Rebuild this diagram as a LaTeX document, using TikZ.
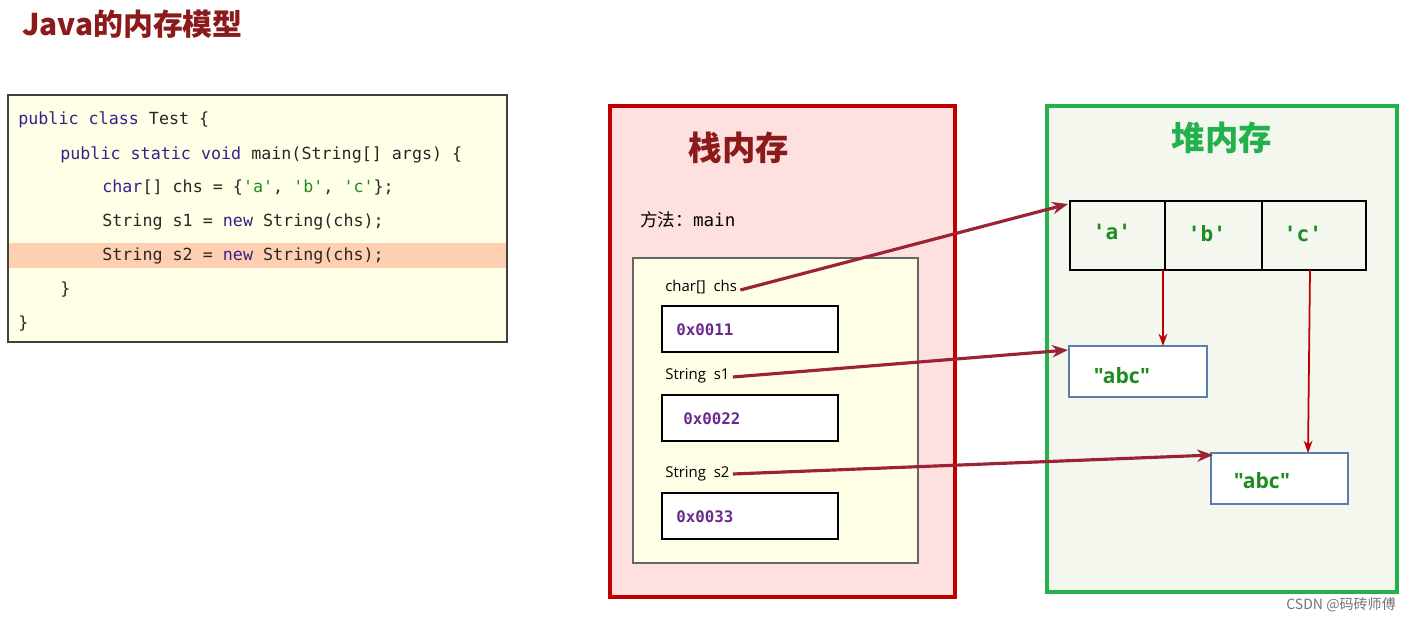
\documentclass[tikz,border=0pt]{standalone}
\usepackage{fontspec}
\setmainfont{Noto Sans CJK SC}
\setsansfont{Noto Sans CJK SC}
\setmonofont{DejaVu Sans Mono}
\newfontfamily\latinsf{Open Sans}
\usetikzlibrary{arrows.meta}
\definecolor{dred}{HTML}{8B1A1A}
\definecolor{arrred}{HTML}{9B2335}
\definecolor{kw}{HTML}{3A1F8A}
\definecolor{cg}{HTML}{1E8C1E}
\definecolor{purp}{HTML}{6A2A8C}
\definecolor{hgreen}{HTML}{22B14C}
\definecolor{hfill}{HTML}{F3F7EE}
\definecolor{sblue}{HTML}{5A7DB0}
\tikzset{
 code/.style={anchor=west,inner sep=0pt,font=\ttfamily\fontsize{9.5}{11}\selectfont,text=black!85},
 lbl/.style={anchor=west,inner sep=0pt,font=\latinsf\fontsize{8.5}{10}\selectfont},
 ref/.style={-{Stealth[length=9pt,width=7pt]},arrred,line width=1.8pt},
 thin/.style={-{Stealth[length=7pt,width=5pt]},red!75!black,line width=1pt},
 strbox/.style={draw=sblue,line width=1.5pt,fill=white},
 strtxt/.style={text=cg,font=\latinsf\bfseries\fontsize{12}{14}\selectfont},
}
\begin{document}
\begin{tikzpicture}[x=0.02cm,y=-0.02cm]
\useasboundingbox (0,0) rectangle (1417,622);
\node[anchor=west,text=dred,font=\bfseries\fontsize{17}{20}\selectfont] (title) at (16,24) {Java的内存模型};
% code
\draw[fill=yellow!10,draw=black!75,line width=0.8pt] (8,95) rectangle (507,342);
\fill[red!25!orange!30] (9,243) rectangle (506,268);
\node[code] (c1) at (18,120) {\textcolor{kw}{public class} Test \{};
\node[code] (c2) at (60,155) {\textcolor{kw}{public static void} main(String[] args) \{};
\node[code] (c3) at (102,188) {\textcolor{kw}{char}[] chs = \{\textcolor{cg}{'a'}, \textcolor{cg}{'b'}, \textcolor{cg}{'c'}\};};
\node[code] (c4) at (102,222) {String s1 = \textcolor{kw}{new} String(chs);};
\node[code] (c5) at (102,256) {String s2 = \textcolor{kw}{new} String(chs);};
\node[code] (c6) at (60,290) {\}};
\node[code] (c7) at (18,324) {\}};
% stack
\draw[fill=red!12,draw=red!75!black,line width=2.2pt] (610,106) rectangle (955,597);
\node[text=dred,font=\bfseries\fontsize{19}{22}\selectfont] (st) at (739,148) {栈内存};
\node[lbl,font=\fontsize{10}{12}\selectfont] (m) at (640,220) {方法：\texttt{main}};
\draw[fill=yellow!10,draw=black!60,line width=0.8pt] (633,258) rectangle (918,563);
\node[lbl] (l1) at (665,287) {char[]\ \ chs};
\node[lbl] (l2) at (665,376) {String\ \ s1};
\node[lbl] (l3) at (665,474) {String\ \ s2};
\foreach \n/\y/\t/\dx in {a1/306/0x0011/676,a2/395/0x0022/683,a3/493/0x0033/676}{
 \draw[fill=white,line width=1pt] (662,\y) rectangle (838,\y+46);
 \node[anchor=west,inner sep=0pt,text=purp,font=\ttfamily\bfseries\fontsize{9}{11}\selectfont] (\n) at (\dx,\y+24) {\t};
}
% heap
\draw[fill=hfill,draw=hgreen,line width=2.2pt] (1047,106) rectangle (1397,592);
\node[text=hgreen,font=\bfseries\fontsize{19}{22}\selectfont] (hp) at (1222,138) {堆内存};
\draw[line width=1.2pt] (1070,201) rectangle (1366,270) (1165,201)--(1165,270) (1262,201)--(1262,270);
\node[text=cg,font=\ttfamily\bfseries\fontsize{12}{14}\selectfont] (ca) at (1112,232) {'a'};
\node[text=cg,font=\ttfamily\bfseries\fontsize{12}{14}\selectfont] (cb) at (1207,234) {'b'};
\node[text=cg,font=\ttfamily\bfseries\fontsize{12}{14}\selectfont] (cc) at (1303,234) {'c'};
\draw[strbox] (1069,346) rectangle (1207,397);
\node[strtxt] (s1) at (1122,376) {\symbol{34}abc\symbol{34}};
\draw[strbox] (1211,453) rectangle (1348,504);
\node[strtxt] (s2) at (1262,481) {\symbol{34}abc\symbol{34}};
\coordinate (e1) at (1068,204);
\coordinate (e2) at (1068,350);
\coordinate (e3) at (1213,455);
\coordinate (b1) at (1163,270);
\coordinate (b2) at (1163,346);
\coordinate (b3) at (1310,270);
\coordinate (b4) at (1308,453);
\draw[ref] (l1.east)++(3,3) -- (e1);
\draw[ref] (l2.east)++(3,1) -- (e2);
\draw[ref] (l3.east)++(3,0) -- (e3);
\draw[thin] (b1) -- (b2);
\draw[thin] (b3) -- (b4);
\node[anchor=east,text=black!55,font=\fontsize{8}{9}\selectfont] (wm) at (1402,605) {CSDN @码砖师傅};
\end{tikzpicture}
\end{document}
